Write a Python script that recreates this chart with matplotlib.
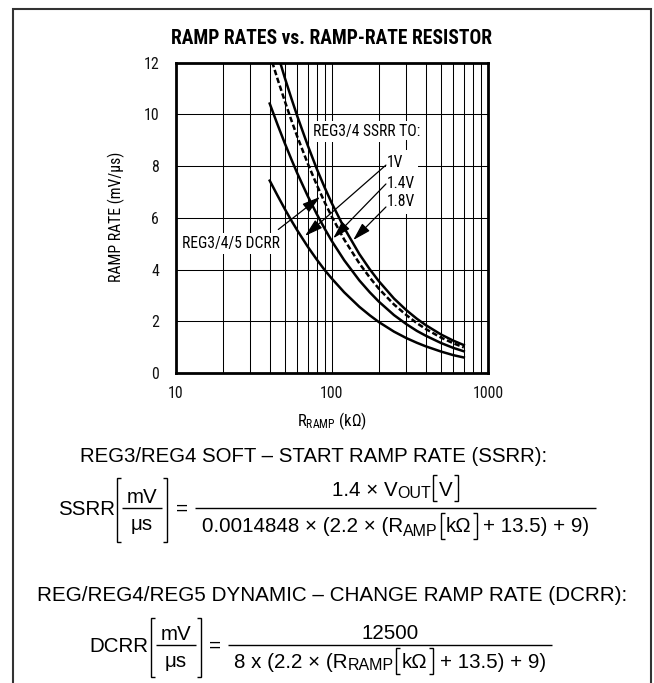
import matplotlib
matplotlib.use('Agg')
import matplotlib.pyplot as plt
from matplotlib.lines import Line2D
from matplotlib.patches import Rectangle
from matplotlib import font_manager

# ---------------- data ----------------
r_kohm   = [40, 45, 50, 55, 60, 70, 80, 90, 100, 120, 150, 175, 200, 250, 300, 350, 400, 500, 600, 700]
ssrr_1v  = [7.44, 6.85, 6.34, 5.90, 5.52, 4.89, 4.39, 3.98, 3.65, 3.12, 2.56, 2.23, 1.97, 1.60, 1.35, 1.17, 1.03, 0.83, 0.69, 0.60]
ssrr_14v = [10.42, 9.59, 8.88, 8.27, 7.73, 6.85, 6.15, 5.58, 5.10, 4.36, 3.58, 3.12, 2.76, 2.24, 1.89, 1.63, 1.44, 1.16, 0.97, 0.84]
ssrr_18v = [13.40, 12.33, 11.41, 10.63, 9.94, 8.81, 7.90, 7.17, 6.56, 5.61, 4.60, 4.01, 3.55, 2.88, 2.43, 2.10, 1.85, 1.49, 1.25, 1.08]
dcrr     = [12.33, 11.35, 10.51, 9.78, 9.15, 8.11, 7.28, 6.60, 6.04, 5.16, 4.24, 3.69, 3.26, 2.65, 2.24, 1.93, 1.70, 1.37, 1.15, 0.99]

x_ticks = [10, 100, 1000]
x_tick_labels = ['10', '100', '1000']
y_ticks = [0, 2, 4, 6, 8, 10, 12]
y_tick_labels = ['0', '2', '4', '6', '8', '10', '12']

title = 'RAMP RATES vs. RAMP-RATE RESISTOR'
y_label = 'RAMP RATE (mV/\u03bcs)'
ssrr_header = 'REG3/REG4 SOFT \u2013 START RAMP RATE (SSRR):'
dcrr_header = 'REG/REG4/REG5 DYNAMIC \u2013 CHANGE RAMP RATE (DCRR):'


# ---------------- fonts ----------------
def has_font(name):
    try:
        font_manager.findfont(font_manager.FontProperties(family=name), fallback_to_default=False)
        return True
    except Exception:
        return False


narrow_first = None
for cand in ['Roboto Condensed', 'Liberation Sans Narrow', 'DejaVu Sans Condensed', 'Liberation Sans']:
    if has_font(cand):
        narrow_first = cand
        break
NARROW = [narrow_first, 'Liberation Sans', 'DejaVu Sans'] if narrow_first else ['Liberation Sans', 'DejaVu Sans']
EQ_FONT = ['Liberation Sans', 'DejaVu Sans']
plt.rcParams['font.family'] = NARROW
plt.rcParams['mathtext.fontset'] = 'custom'
plt.rcParams['mathtext.rm'] = NARROW[0]

W, H, DPI = 654, 683, 100
fig = plt.figure(figsize=(W / DPI, H / DPI), dpi=DPI)
fig.patch.set_facecolor('white')
renderer = fig.canvas.get_renderer()


def fx(x):
    return x / W


def fy(y):
    return 1 - y / H


def measure(s, size, family, weight='normal'):
    t = fig.text(0, 0, s, fontsize=size, family=family, fontweight=weight)
    w = t.get_window_extent(renderer).width
    t.remove()
    return w


def fit(s, target_w, family, weight='normal', lo=7, hi=16):
    size = 12 * target_w / measure(s, 12, family, weight)
    return max(lo, min(hi, size))


def blend(s, target_w, h_size, family, weight='normal'):
    return 0.5 * fit(s, target_w, family, weight) + 0.5 * h_size


TITLE_SIZE = blend(title, 322, 14.0, NARROW, 'bold')
TICK_SIZE = blend('1000', 30, 11.8, NARROW)
ANN_SIZE = blend('REG3/4 SSRR TO:', 108, 11.2, NARROW)
YLAB_SIZE = blend(y_label, 131, 11.2, NARROW)

# outer frame (no bottom edge)
fig.add_artist(Line2D([fx(13), fx(13), fx(651), fx(651)], [fy(683), fy(9), fy(9), fy(683)],
                      lw=1.5, color='#333333', solid_joinstyle='miter'))

# axes
AX_L, AX_R, AX_T, AX_B = 175.7, 488.0, 62.7, 373.0
ax = fig.add_axes([AX_L / W, 1 - AX_B / H, (AX_R - AX_L) / W, (AX_B - AX_T) / H])
ax.set_xscale('log')
ax.set_xlim(10, 1000)
ax.set_ylim(0, 12)
ax.set_xticks(x_ticks)
ax.set_xticklabels(x_tick_labels)
ax.set_yticks(y_ticks)
ax.set_yticklabels(y_tick_labels)
ax.xaxis.set_minor_formatter(matplotlib.ticker.NullFormatter())
ax.tick_params(which='both', length=0, labelsize=TICK_SIZE, colors='#111111')
ax.tick_params(axis='y', pad=12)
ax.tick_params(axis='x', pad=9)
ax.grid(True, which='both', color='black', lw=0.75)
for s in ax.spines.values():
    s.set_linewidth(2.0)
    s.set_zorder(6)

ax.plot(r_kohm, ssrr_1v, color='black', lw=1.8, zorder=4)
ax.plot(r_kohm, ssrr_14v, color='black', lw=1.8, zorder=4)
ax.plot(r_kohm, ssrr_18v, color='black', lw=1.8, zorder=4)
ax.plot(r_kohm, dcrr, color='black', lw=1.8, ls=(0, (2.2, 1.1)), zorder=4)

# white cover behind the 1V / 1.4V / 1.8V labels
ax.add_patch(Rectangle((222, 6.15), 356.6 - 222, 8.62 - 6.15, facecolor='white', edgecolor='none', zorder=3))

box = dict(facecolor='white', edgecolor='none', pad=2.0)
ax.text(166.7, 9.33, 'REG3/4 SSRR TO:', ha='center', va='center', fontsize=ANN_SIZE, bbox=box, zorder=5)
ax.text(22.5, 5.02, 'REG3/4/5 DCRR', ha='center', va='center', fontsize=ANN_SIZE, bbox=box, zorder=5)
ax.text(226, 8.13, '1V', ha='left', va='center', fontsize=ANN_SIZE, zorder=5)
ax.text(226, 7.34, '1.4V', ha='left', va='center', fontsize=ANN_SIZE, zorder=5)
ax.text(226, 6.62, '1.8V', ha='left', va='center', fontsize=ANN_SIZE, zorder=5)
# remnant of the R=300 gridline between the two label boxes
ax.plot([300, 300], [8.86, 9.0], color='black', lw=0.75, zorder=5)

arrow = dict(arrowstyle='-|>,head_length=1.1,head_width=0.32', lw=0.9, color='black',
             shrinkA=0, shrinkB=0, mutation_scale=10)
ax.annotate('', xy=(67.3, 5.30), xytext=(222, 8.04), arrowprops=arrow, zorder=5)
ax.annotate('', xy=(102, 5.21), xytext=(222, 7.31), arrowprops=arrow, zorder=5)
ax.annotate('', xy=(137, 5.14), xytext=(222, 6.42), arrowprops=arrow, zorder=5)
ax.annotate('', xy=(84, 6.81), xytext=(45.4, 5.55), arrowprops=arrow, zorder=5)

# title and axis labels
fig.text(fx(331.7), fy(38), title, ha='center', va='center', fontsize=TITLE_SIZE, fontweight='bold', family=NARROW)
fig.text(fx(116.7), fy(216.7), y_label, ha='center', va='center', rotation=90, fontsize=YLAB_SIZE, family=NARROW)
fig.text(fx(332), fy(421), r'$\mathregular{R_{RAMP}}$ (k' + '\u03a9)',
         ha='center', va='center', fontsize=12, family=NARROW)


# ---------------- equation helpers ----------------
def line(xs, ys, lw=1.0):
    fig.add_artist(Line2D([fx(v) for v in xs], [fy(v) for v in ys], lw=lw, color='black',
                          solid_joinstyle='miter', solid_capstyle='butt'))


def bracket(x, top, bot, side, lw=1.0, serif=4):
    d = serif if side == '[' else -serif
    line([x + d, x, x, x + d], [top, top, bot, bot], lw=lw)


def compose(segs, x, base):
    widths = []
    for sg in segs:
        if sg[0] == 't':
            widths.append(measure(sg[1], sg[2], EQ_FONT))
        elif sg[0] == 'g':
            widths.append(sg[1])
        else:
            widths.append(7)
    total = sum(widths)
    cur = x - total / 2
    for sg, w in zip(segs, widths):
        if sg[0] == 't':
            fig.text(fx(cur), fy(base + sg[3]), sg[1], fontsize=sg[2], family=EQ_FONT,
                     ha='left', va='baseline')
        elif sg[0] == 'b':
            side, up, down = sg[1], sg[2], sg[3]
            bx = cur + 1.5 if side == '[' else cur + w - 1.5
            bracket(bx, base - up, base + down, side)
        cur += w


S = 14.8
SUB = 11.5
CAP = 7.5  # half cap height in px

fig.text(fx(80), fy(455 + CAP), ssrr_header, ha='left', va='baseline', fontsize=fit(ssrr_header, 468, EQ_FONT, lo=12, hi=16), family=EQ_FONT)
fig.text(fx(36.7), fy(593.5 + CAP), dcrr_header, ha='left', va='baseline', fontsize=fit(dcrr_header, 590, EQ_FONT, lo=12, hi=16), family=EQ_FONT)


def equation(name, name_right, bar_y, br_l, br_r, br_top, br_bot, unit_cx, eq_x, bar_x0, bar_x1,
             num_segs, num_base, den_segs, den_base):
    fig.text(fx(name_right), fy(bar_y + CAP), name, ha='right', va='baseline', fontsize=S, family=EQ_FONT)
    bracket(br_l, br_top, br_bot, '[')
    bracket(br_r, br_top, br_bot, ']')
    line([br_l + 5, br_r - 5], [bar_y, bar_y])
    fig.text(fx(unit_cx), fy(bar_y - 4.5), 'mV', ha='center', va='baseline', fontsize=S, family=EQ_FONT)
    fig.text(fx(unit_cx), fy(bar_y + 22), '\u03bcs', ha='center', va='baseline', fontsize=S, family=EQ_FONT)
    fig.text(fx(eq_x), fy(bar_y + 7.0), '=', ha='center', va='baseline', fontsize=S, family=EQ_FONT)
    line([bar_x0, bar_x1], [bar_y, bar_y], lw=1.0)
    cx = (bar_x0 + bar_x1) / 2
    compose(num_segs, cx, num_base)
    compose(den_segs, cx, den_base)


equation('SSRR', 115, 507.7, 117, 167, 478, 541.7, 142, 181.7, 195, 596,
         [('t', '1.4 \u00d7 V', S, 0), ('t', 'OUT', SUB, 3), ('g', 1),
          ('b', '[', 21, 5), ('t', 'V', S, 0), ('b', ']', 21, 5)],
         488 + CAP,
         [('t', '0.0014848 \u00d7 (2.2 \u00d7 (R', S, 0), ('t', 'AMP', SUB, 3), ('g', 1),
          ('b', '[', 20, 6), ('t', 'k\u03a9', S, 0), ('b', ']', 20, 6), ('g', 4),
          ('t', '+ 13.5) + 9)', S, 0)],
         525 + CAP)

equation('DCRR', 148, 645, 151, 201, 618, 676.7, 176, 215, 228, 552,
         [('t', '12500', S, 0)],
         631.7 + CAP,
         [('t', '8 x (2.2 \u00d7 (R', S, 0), ('t', 'RAMP', SUB, 3), ('g', 1),
          ('b', '[', 20, 6), ('t', 'k\u03a9', S, 0), ('b', ']', 20, 6), ('g', 5),
          ('t', '+ 13.5) + 9)', S, 0)],
         660 + CAP)

fig.savefig('out.png', dpi=DPI, facecolor='white')
